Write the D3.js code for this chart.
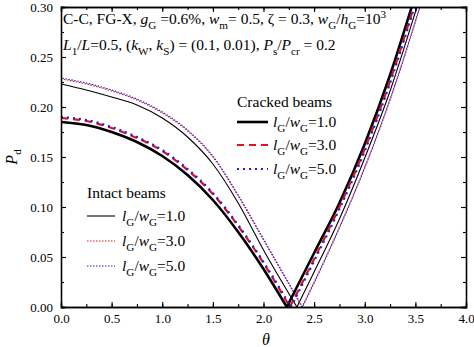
<!DOCTYPE html>
<html>
<head>
<meta charset="utf-8">
<script src="https://cdn.jsdelivr.net/npm/d3@7"></script>
<style>
  html, body { margin: 0; padding: 0; background: #fff; }
  svg { display: block; }
  text { font-family: "Liberation Serif", "Times New Roman", serif; fill: #000; }
</style>
</head>
<body>
<svg id="chart" width="474" height="347"></svg>
<script>
// Dimensionless load P_d versus angle θ
const thetaLeft = [0, 0.25, 0.5, 0.75, 1.0, 1.25, 1.5, 1.75, 2.0];
const thetaRight = [2.5, 2.75, 3.0, 3.25, 3.5, 3.6];

const crackedL1Left  = [0.185, 0.182, 0.175, 0.165, 0.151, 0.132, 0.107, 0.075, 0.038];
const crackedL1Zero  = 2.23;
const crackedL1Right = [0.054, 0.104, 0.163, 0.232, 0.312, 0.345];

const crackedL3Left  = [0.189, 0.186, 0.179, 0.169, 0.156, 0.137, 0.113, 0.081, 0.044];
const crackedL3Zero  = 2.26;
const crackedL3Right = [0.048, 0.100, 0.158, 0.226, 0.305, 0.338];

const crackedL5Left  = [0.190, 0.187, 0.180, 0.170, 0.157, 0.138, 0.114, 0.082, 0.045];
const crackedL5Zero  = 2.27;
const crackedL5Right = [0.046, 0.098, 0.156, 0.224, 0.303, 0.336];

const intactL1Left   = [0.223, 0.217, 0.210, 0.202, 0.189, 0.170, 0.143, 0.104, 0.057];
const intactL1Zero   = 2.33;
const intactL1Right  = [0.035, 0.088, 0.149, 0.216, 0.295, 0.328];

const intactL3Left   = [0.228, 0.223, 0.216, 0.207, 0.194, 0.176, 0.150, 0.111, 0.067];
const intactL3Zero   = 2.38;
const intactL3Right  = [0.025, 0.080, 0.140, 0.208, 0.286, 0.319];

const intactL5Left   = [0.229, 0.224, 0.217, 0.208, 0.195, 0.177, 0.151, 0.112, 0.068];
const intactL5Zero   = 2.385;
const intactL5Right  = [0.024, 0.079, 0.139, 0.207, 0.285, 0.318];

const xTicks = [0, 0.5, 1.0, 1.5, 2.0, 2.5, 3.0, 3.5, 4.0];
const yTicks = [0, 0.05, 0.10, 0.15, 0.20, 0.25, 0.30];

const legendRatios = ["1.0", "3.0", "5.0"];

// Each curve is two branches meeting at its zero crossing
function curve(left, zero, right) {
  const a = thetaLeft.map((t, i) => [t, left[i]]);
  a.push([zero, 0]);
  const b = [[zero, 0]];
  thetaRight.forEach((t, i) => b.push([t, right[i]]));
  return [a, b];
}

const RED = "#e5121b";
const BLUE = "#1f1fe0";

const series = [
  { branches: curve(intactL1Left, intactL1Zero, intactL1Right), color: "#000", width: 1.1, dash: null },
  { branches: curve(intactL3Left, intactL3Zero, intactL3Right), color: RED, width: 1.1, dash: "1.5,1.5" },
  { branches: curve(intactL5Left, intactL5Zero, intactL5Right), color: BLUE, width: 1.1, dash: "1.5,1.5", offset: 1.5 },
  { branches: curve(crackedL1Left, crackedL1Zero, crackedL1Right), color: "#000", width: 2.6, dash: null },
  { branches: curve(crackedL3Left, crackedL3Zero, crackedL3Right), color: RED, width: 2.2, dash: "7,5" },
  { branches: curve(crackedL5Left, crackedL5Zero, crackedL5Right), color: BLUE, width: 2.2, dash: "2,4" }
];

const svg = d3.select("#chart");
const m = { left: 61, right: 466, top: 7, bottom: 307 };

const x = d3.scaleLinear().domain([0, 4]).range([m.left, m.right]);
const y = d3.scaleLinear().domain([0, 0.3]).range([m.bottom, m.top]);

svg.append("defs").append("clipPath").attr("id", "plotclip")
  .append("rect")
  .attr("x", m.left).attr("y", m.top)
  .attr("width", m.right - m.left).attr("height", m.bottom - m.top);

// Curves
const line = d3.line().x(d => x(d[0])).y(d => y(d[1])).curve(d3.curveMonotoneX);
const plot = svg.append("g").attr("clip-path", "url(#plotclip)");
series.forEach(s => {
  s.branches.forEach(br => {
    plot.append("path")
      .attr("d", line(br))
      .attr("fill", "none")
      .attr("stroke", s.color)
      .attr("stroke-width", s.width)
      .attr("stroke-dasharray", s.dash)
      .attr("stroke-dashoffset", s.offset || 0)
      .attr("stroke-linejoin", "round");
  });
});

// Axes with inward ticks on all four sides
const minorX = d3.range(0, 4.001, 0.25);
const minorY = d3.range(0, 0.3001, 0.025);

function styleAxis(g) {
  g.select(".domain").attr("stroke", "#000").attr("stroke-width", 1.3);
  g.selectAll(".tick line").attr("stroke", "#000").attr("stroke-width", 1.1);
  g.selectAll("text").style("font-family", "Liberation Serif, serif").style("font-size", "13px").attr("fill", "#000");
}

svg.append("g").attr("transform", `translate(0,${m.bottom})`)
  .call(d3.axisBottom(x).tickValues(minorX).tickSize(-3).tickFormat(""))
  .call(styleAxis);
svg.append("g").attr("transform", `translate(0,${m.bottom})`)
  .call(d3.axisBottom(x).tickValues(xTicks).tickSize(-5).tickPadding(7).tickFormat(d3.format(".1f")))
  .call(styleAxis);
svg.append("g").attr("transform", `translate(0,${m.top})`)
  .call(d3.axisTop(x).tickValues(minorX).tickSize(-3).tickFormat(""))
  .call(styleAxis);
svg.append("g").attr("transform", `translate(0,${m.top})`)
  .call(d3.axisTop(x).tickValues(xTicks).tickSize(-5).tickFormat(""))
  .call(styleAxis);

svg.append("g").attr("transform", `translate(${m.left},0)`)
  .call(d3.axisLeft(y).tickValues(minorY).tickSize(-3).tickFormat(""))
  .call(styleAxis);
svg.append("g").attr("transform", `translate(${m.left},0)`)
  .call(d3.axisLeft(y).tickValues(yTicks).tickSize(-5).tickPadding(8).tickFormat(d3.format(".2f")))
  .call(styleAxis);
svg.append("g").attr("transform", `translate(${m.right},0)`)
  .call(d3.axisRight(y).tickValues(minorY).tickSize(-3).tickFormat(""))
  .call(styleAxis);
svg.append("g").attr("transform", `translate(${m.right},0)`)
  .call(d3.axisRight(y).tickValues(yTicks).tickSize(-5).tickFormat(""))
  .call(styleAxis);

// Rich text with italics, subscripts and superscripts
function richText(parent, px, py, size, parts) {
  const t = parent.append("text").attr("x", px).attr("y", py).style("font-size", size + "px");
  let shift = 0;
  parts.forEach(p => {
    const seg = typeof p === "string" ? { t: p } : p;
    let target = 0, fs = size;
    if (seg.sub) { target = size * 0.3; fs = size * 0.72; }
    if (seg.sup) { target = -size * 0.4; fs = size * 0.72; }
    t.append("tspan")
      .attr("dy", target - shift)
      .style("font-size", fs + "px")
      .style("font-style", seg.i ? "italic" : "normal")
      .text(seg.t);
    shift = target;
  });
  return t;
}

const ann = svg.append("g");
richText(ann, 63, 24, 15.5, [
  "C-C, FG-X, ", { t: "g", i: true }, { t: "G", sub: true }, " =0.6%, ",
  { t: "w", i: true }, { t: "m", sub: true }, "= 0.5, ζ = 0.3, ",
  { t: "w", i: true }, { t: "G", sub: true }, "/", { t: "h", i: true }, { t: "G", sub: true },
  "=10", { t: "3", sup: true }
]);
richText(ann, 63, 50, 15.5, [
  { t: "L", i: true }, { t: "1", sub: true }, "/", { t: "L", i: true }, "=0.5, (",
  { t: "k", i: true }, { t: "W", sub: true }, ", ", { t: "k", i: true }, { t: "S", sub: true },
  ") = (0.1, 0.01), ", { t: "P", i: true }, { t: "s", sub: true }, "/",
  { t: "P", i: true }, { t: "cr", sub: true }, " = 0.2"
]);

// Legends
function legend(title, tx, ty, lx0, lx1, textX, rows, items) {
  const g = svg.append("g");
  g.append("text").attr("x", tx).attr("y", ty).style("font-size", "15.5px").text(title);
  items.forEach((s, i) => {
    g.append("line")
      .attr("x1", lx0).attr("x2", lx1).attr("y1", rows[i]).attr("y2", rows[i])
      .attr("stroke", s.color).attr("stroke-width", s.width)
      .attr("stroke-dasharray", s.dash);
    richText(g, textX, rows[i] + 5, 15.5, [
      { t: "l", i: true }, { t: "G", sub: true }, "/", { t: "w", i: true }, { t: "G", sub: true },
      "=" + legendRatios[i]
    ]);
  });
}
legend("Cracked beams", 237, 107, 237, 268, 273, [122, 145, 169], series.slice(3));
legend("Intact beams", 87, 198, 87, 115, 122, [216, 241, 266], series.slice(0, 3));

// Axis titles
svg.append("text").attr("x", 266).attr("y", 345).attr("text-anchor", "middle")
  .style("font-size", "16px").style("font-style", "italic").text("θ");
const yl = svg.append("text").attr("transform", "translate(17,157) rotate(-90)")
  .attr("text-anchor", "middle").style("font-size", "16px");
yl.append("tspan").style("font-style", "italic").text("P");
yl.append("tspan").attr("dy", 4).style("font-size", "11px").text("d");
</script>
</body>
</html>
